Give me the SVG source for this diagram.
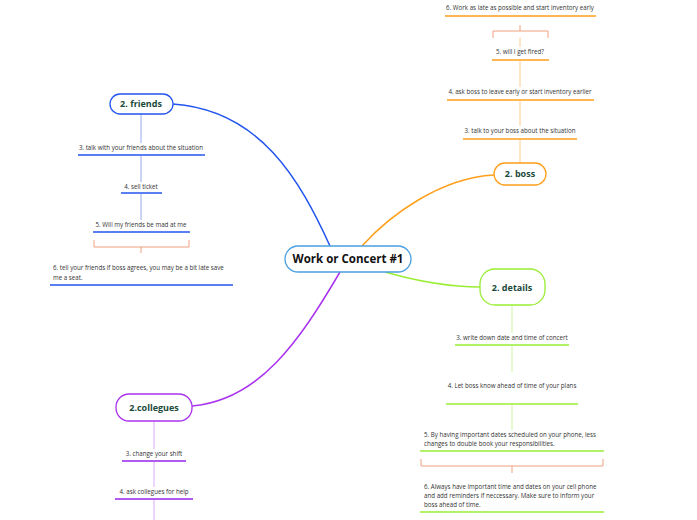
<svg xmlns="http://www.w3.org/2000/svg" width="697" height="520" viewBox="0 0 697 520">
<style>
text{font-family:"Open Sans","Noto Sans",sans-serif;fill:#333}
.s{font-size:6.2px}
.m{font-size:9px;font-weight:bold;fill:#1a4a3a;text-anchor:middle}
.c{text-anchor:middle}
.bl{stroke:#2255ee;stroke-width:1.6}
.or{stroke:#ff9f1a;stroke-width:1.6}
.gr{stroke:#99ee33;stroke-width:1.6}
.pu{stroke:#9922ee;stroke-width:1.6}
.br{fill:none;stroke:#f0a080;stroke-width:1}
</style>
<rect width="697" height="520" fill="#fff"/>
<g id="connectors" fill="none">
<path d="M173,104 C260,110 300,180 330,246" stroke="#2255ee" stroke-width="1.5"/>
<path d="M494,175 C440,178 390,215 362,246" stroke="#ff9f1a" stroke-width="1.5"/>
<path d="M385,272 C420,282 450,287 480,287" stroke="#99ee33" stroke-width="1.5"/>
<path d="M340,272 C300,340 260,400 192,406" stroke="#aa33ee" stroke-width="1.5"/>
<path d="M141,114V143M141,156V182M141,194V220" stroke="#99aaee"/>
<path d="M520,38V47M520,61V87M520,101V126M520,140V163" stroke="#ffcc88"/>
<path d="M512,305V333M512,346V372M512,405V430" stroke="#ccf5a0"/>
<path d="M154,421V449M154,462V487M154,500V520" stroke="#ddaaf5"/>
</g>
<g id="center"><rect x="285" y="246" width="126" height="26" rx="13" fill="#fff" stroke="#4aa0e0" stroke-width="1.3"/><text x="348" y="263" class="c" style="font-size:11.5px;font-weight:bold;fill:#111">Work or Concert #1</text></g>
<g id="friends"><rect x="110" y="94" width="63" height="20" rx="10" fill="#fff" stroke="#2255ee" stroke-width="1.3"/><text x="141" y="107" class="m">2. friends</text></g>
<g id="f3"><text x="141" y="150" class="s c">3. talk with your friends about the situation</text><line x1="78" y1="155" x2="205" y2="155" class="bl"/></g>
<g id="f4"><text x="141" y="189" class="s c">4. sell ticket</text><line x1="121" y1="193" x2="162" y2="193" class="bl"/></g>
<g id="f5"><text x="141" y="227" class="s c">5. Will my friends be mad at me</text><line x1="93" y1="232" x2="190" y2="232" class="bl"/></g>
<path d="M94,240V247H189V240M141,247V253" class="br"/>
<g id="f6"><text x="53" y="270" class="s">6. tell your friends if boss agrees, you may be a bit late save</text><text x="53" y="280" class="s">me a seat.</text><line x1="50" y1="285" x2="233" y2="285" class="bl"/></g>
<g id="boss"><rect x="494" y="163" width="52" height="22" rx="11" fill="#fff" stroke="#ff9f1a" stroke-width="1.3"/><text x="520" y="177" class="m">2. boss</text></g>
<g id="b6"><text x="520" y="10" class="s c">6. Work as late as possible and start inventory early</text><line x1="445" y1="16" x2="596" y2="16" class="or"/></g>
<path d="M520,25V31M493,38V31H548V38" class="br"/>
<g id="b5"><text x="520" y="54" class="s c">5. will I get fired?</text><line x1="492" y1="60" x2="549" y2="60" class="or"/></g>
<g id="b4"><text x="520" y="94" class="s c">4. ask boss to leave early or start inventory earlier</text><line x1="447" y1="100" x2="594" y2="100" class="or"/></g>
<g id="b3"><text x="520" y="133" class="s c">3. talk to your boss about the situation</text><line x1="463" y1="139" x2="577" y2="139" class="or"/></g>
<g id="details"><rect x="480" y="269" width="65" height="36" rx="15" fill="#fff" stroke="#99ee33" stroke-width="1.3"/><text x="512" y="291" class="m">2. details</text></g>
<g id="d3"><text x="512" y="340" class="s c">3. write down date and time of concert</text><line x1="455" y1="345" x2="569" y2="345" class="gr"/></g>
<g id="d4"><text x="512" y="388" class="s c">4. Let boss know ahead of time of your plans</text><line x1="446" y1="404" x2="578" y2="404" class="gr"/></g>
<g id="d5"><text x="424" y="437" class="s">5. By having important dates scheduled on your phone, less</text><text x="424" y="446" class="s">changes to double book your responsibilities.</text><line x1="420" y1="451" x2="604" y2="451" class="gr"/></g>
<path d="M421,459V466H603V459M512,466V473" class="br"/>
<g id="d6"><text x="424" y="489" class="s">6. Always have important time and dates on your cell phone</text><text x="424" y="498" class="s">and add reminders if neccessary. Make sure to inform your</text><text x="424" y="507" class="s">boss ahead of time.</text><line x1="420" y1="512" x2="604" y2="512" class="gr"/></g>
<g id="collegues"><rect x="116" y="394" width="76" height="27" rx="13" fill="#fff" stroke="#aa33ee" stroke-width="1.3"/><text x="154" y="411" class="m">2.collegues</text></g>
<g id="c3"><text x="154" y="456" class="s c">3. change your shift</text><line x1="122" y1="461" x2="186" y2="461" class="pu"/></g>
<g id="c4"><text x="154" y="494" class="s c">4. ask collegues for help</text><line x1="115" y1="499" x2="193" y2="499" class="pu"/></g>
</svg>
